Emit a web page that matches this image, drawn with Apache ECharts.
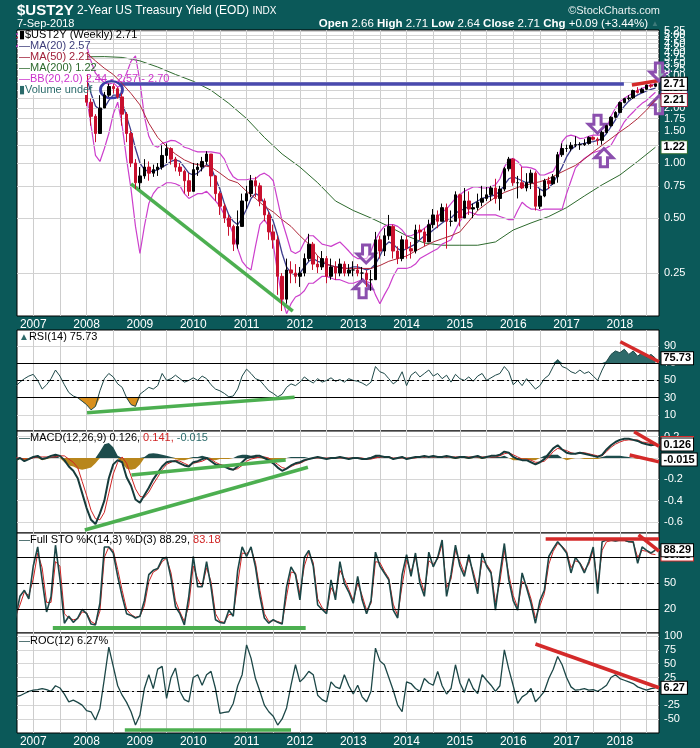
<!DOCTYPE html>
<html><head><meta charset="utf-8">
<script src="https://cdn.jsdelivr.net/npm/echarts@6/dist/echarts.min.js"></script>
<style>html,body{margin:0;padding:0;background:#0b5959;}#c{width:700px;height:748px;}</style>
</head><body><div id="c"></div>
<script>
// ---------- DATA (monthly samples, index 0 = Sep 2006) ----------
const startYear = 2006, startMonth = 9;
const yearLabels = ['2007','2008','2009','2010','2011','2012','2013','2014','2015','2016','2017','2018'];
const priceTicks = [0.25,0.5,0.75,1,1.25,1.5,1.75,2,2.25,2.5,2.75,3,3.25,3.5,3.75,4,4.25,4.5,4.75,5,5.25];
const rsiTicks = [10,30,50,70,90];
const macdTicks = [0.2,0,-0.2,-0.4,-0.6];
const stoTicks = [20,50,80];
const rocTicks = [100,75,50,25,0,-25,-50];

// monthly close
const price = [4.70,4.70,4.62,4.81,
4.92,4.60,4.58,4.59,4.92,4.87,4.56,4.15,3.97,3.94,3.04,3.05,
2.15,1.80,1.45,2.00,2.35,2.62,2.55,2.30,1.85,1.45,1.00,0.78,
0.85,0.95,0.88,0.92,0.95,1.10,1.20,1.05,0.95,0.90,0.80,0.70,
0.92,0.95,1.02,1.12,0.85,0.68,0.58,0.50,0.45,0.36,0.45,0.62,
0.68,0.80,0.75,0.62,0.52,0.42,0.38,0.24,0.18,0.26,0.25,0.24,
0.25,0.30,0.36,0.28,0.27,0.30,0.24,0.27,0.25,0.28,0.25,0.26,
0.26,0.25,0.25,0.23,0.23,0.38,0.33,0.40,0.45,0.33,0.30,0.38,
0.34,0.33,0.43,0.42,0.37,0.46,0.52,0.48,0.57,0.48,0.48,0.67,
0.50,0.62,0.56,0.57,0.61,0.64,0.67,0.73,0.64,0.72,0.93,1.05,
0.78,0.78,0.73,0.78,0.88,0.58,0.66,0.80,0.77,0.84,1.11,1.20,
1.20,1.25,1.26,1.26,1.28,1.38,1.35,1.33,1.47,1.60,1.78,1.89,
2.14,2.25,2.27,2.49,2.43,2.53,2.67,2.63,2.71];
// monthly high / low
const priceHigh = [4.80,4.78,4.75,4.85,5.00,4.95,4.65,4.70,4.95,5.10,4.95,4.60,4.20,4.15,3.95,3.35,
3.05,2.25,1.85,2.35,2.45,2.72,2.70,2.60,2.40,1.90,1.50,1.05,0.95,1.05,1.02,0.98,
1.00,1.25,1.28,1.22,1.08,1.00,0.92,0.88,1.00,1.00,1.08,1.16,1.12,0.86,0.70,0.60,
0.52,0.46,0.55,0.68,0.75,0.86,0.84,0.78,0.64,0.54,0.46,0.40,0.25,0.30,0.29,0.28,
0.27,0.32,0.41,0.37,0.31,0.33,0.31,0.30,0.29,0.30,0.29,0.28,0.29,0.28,0.27,0.26,
0.26,0.42,0.40,0.44,0.52,0.46,0.35,0.40,0.40,0.37,0.46,0.46,0.44,0.49,0.56,0.55,
0.60,0.60,0.55,0.70,0.68,0.73,0.70,0.60,0.68,0.75,0.74,0.75,0.82,0.75,0.95,1.08,
1.06,0.85,0.95,0.88,0.92,0.90,0.72,0.82,0.84,0.87,1.15,1.28,1.26,1.30,1.40,1.30,
1.35,1.40,1.40,1.38,1.50,1.62,1.80,1.92,2.17,2.27,2.35,2.52,2.60,2.58,2.68,2.70,2.71];
const priceLow = [4.62,4.62,4.58,4.55,4.76,4.55,4.45,4.52,4.56,4.80,4.50,3.90,3.85,3.75,2.90,2.95,
2.05,1.60,1.30,1.45,2.00,2.30,2.40,2.25,1.60,1.30,0.95,0.72,0.72,0.82,0.80,0.84,
0.85,0.92,1.00,0.98,0.90,0.85,0.68,0.66,0.70,0.85,0.90,0.98,0.74,0.62,0.52,0.47,
0.40,0.33,0.34,0.45,0.56,0.65,0.65,0.58,0.48,0.38,0.34,0.19,0.155,0.17,0.22,0.22,
0.21,0.24,0.29,0.26,0.25,0.26,0.22,0.23,0.23,0.24,0.24,0.24,0.24,0.24,0.23,0.21,
0.20,0.23,0.30,0.31,0.38,0.30,0.28,0.29,0.30,0.30,0.32,0.38,0.35,0.37,0.44,0.44,
0.48,0.34,0.45,0.48,0.45,0.50,0.52,0.50,0.55,0.58,0.62,0.62,0.60,0.55,0.70,0.90,
0.75,0.64,0.72,0.70,0.72,0.55,0.56,0.65,0.72,0.76,0.78,1.08,1.15,1.16,1.22,1.18,
1.24,1.26,1.33,1.25,1.26,1.45,1.58,1.75,1.88,2.12,2.20,2.24,2.40,2.42,2.50,2.58,2.60];

const ma20 = [4.75,4.72,4.70,4.72,4.78,4.80,4.72,4.62,4.68,4.80,4.80,4.60,4.30,4.05,3.85,3.45,
2.95,2.40,2.05,1.95,2.00,2.20,2.35,2.35,2.15,1.80,1.50,1.20,1.00,0.92,0.90,0.90,
0.92,0.95,0.98,1.02,1.04,1.02,0.95,0.88,0.86,0.88,0.93,0.98,0.95,0.82,0.72,0.60,
0.52,0.48,0.46,0.50,0.56,0.64,0.68,0.66,0.60,0.54,0.48,0.40,0.32,0.27,0.25,0.245,
0.25,0.27,0.29,0.30,0.29,0.285,0.28,0.275,0.27,0.27,0.265,0.265,0.27,0.27,0.265,0.26,
0.265,0.28,0.31,0.35,0.37,0.36,0.34,0.33,0.34,0.35,0.36,0.38,0.40,0.41,0.43,0.45,
0.47,0.49,0.50,0.53,0.55,0.56,0.58,0.60,0.62,0.64,0.65,0.66,0.67,0.70,0.76,0.82,
0.84,0.82,0.80,0.78,0.79,0.76,0.72,0.70,0.73,0.78,0.86,0.95,1.08,1.18,1.24,1.27,
1.28,1.30,1.31,1.33,1.36,1.45,1.58,1.72,1.90,2.05,2.18,2.28,2.36,2.42,2.48,2.53,2.57];

const ma50Step = 2;
const ma50 = [4.85,4.88,4.85,4.80,4.75,4.70,4.55,4.30,4.00,3.62,3.30,3.05,2.72,2.40,2.08,1.65,
1.38,1.23,1.12,1.04,0.99,0.97,0.95,0.88,0.81,0.78,0.70,0.64,0.58,0.54,0.49,0.45,0.40,0.36,
0.31,0.28,0.27,0.265,0.265,0.265,0.265,0.275,0.29,0.30,0.31,0.33,0.35,0.37,0.385,0.40,0.42,
0.48,0.55,0.60,0.65,0.69,0.72,0.75,0.77,0.79,0.82,0.87,0.92,0.97,1.05,1.15,1.25,1.36,1.48,
1.60,1.75,1.95,2.21];

const ma200Step = 4;
const ma200 = [3.50,3.60,3.70,3.77,3.81,3.82,3.78,3.62,3.35,3.05,2.80,2.50,2.12,1.75,1.38,1.12,
0.95,0.78,0.62,0.55,0.50,0.45,0.40,0.365,0.355,0.355,0.355,0.37,0.43,0.47,0.51,0.57,0.66,0.76,
0.86,1.02,1.22];

const bbUpper = [5.1,5.0,4.95,5.0,5.05,5.1,5.0,4.9,4.95,5.1,5.1,5.2,5.1,4.8,4.7,4.5,
4.4,3.6,3.1,2.9,2.75,2.7,2.75,2.6,2.7,3.1,3.6,3.85,2.8,1.8,1.4,1.25,
1.22,1.28,1.30,1.33,1.32,1.28,1.22,1.20,1.17,1.15,1.15,1.15,1.15,1.14,1.13,1.05,
0.92,0.84,0.81,0.81,0.81,0.82,0.82,0.86,0.88,0.85,0.80,0.62,0.48,0.40,0.33,0.32,
0.33,0.37,0.40,0.40,0.38,0.36,0.355,0.35,0.36,0.37,0.35,0.33,0.31,0.30,0.30,0.30,
0.33,0.38,0.42,0.45,0.46,0.46,0.45,0.43,0.40,0.40,0.41,0.42,0.44,0.46,0.48,0.51,
0.54,0.56,0.60,0.64,0.67,0.70,0.72,0.74,0.74,0.73,0.73,0.74,0.76,0.82,0.95,1.04,
1.06,1.02,0.95,0.95,0.94,0.92,0.86,0.86,0.88,0.90,1.00,1.31,1.40,1.42,1.40,1.36,
1.37,1.40,1.42,1.42,1.42,1.55,1.80,2.00,2.16,2.26,2.34,2.42,2.50,2.56,2.62,2.67,2.70];

const bbLower = [4.3,4.5,4.5,4.5,4.6,4.4,4.4,4.4,4.3,4.5,4.3,3.9,3.6,3.5,3.1,2.8,
2.3,1.6,1.1,1.02,1.2,1.45,1.85,2.15,1.6,1.05,0.72,0.45,0.32,0.45,0.6,0.68,
0.73,0.75,0.78,0.78,0.77,0.75,0.68,0.64,0.66,0.68,0.68,0.70,0.66,0.62,0.58,0.52,
0.47,0.41,0.34,0.29,0.27,0.26,0.35,0.46,0.49,0.45,0.36,0.25,0.18,0.15,0.17,0.185,
0.19,0.20,0.22,0.22,0.23,0.24,0.24,0.235,0.23,0.23,0.225,0.22,0.22,0.225,0.23,0.225,
0.22,0.19,0.17,0.19,0.21,0.24,0.265,0.265,0.265,0.27,0.28,0.30,0.31,0.32,0.33,0.34,
0.36,0.37,0.38,0.43,0.48,0.52,0.54,0.53,0.52,0.52,0.52,0.52,0.52,0.51,0.50,0.49,
0.49,0.55,0.61,0.58,0.56,0.56,0.55,0.56,0.56,0.56,0.56,0.56,0.68,0.80,0.94,1.00,
1.06,1.10,1.14,1.16,1.18,1.21,1.25,1.38,1.52,1.68,1.80,1.90,2.02,2.12,2.20,2.32,2.44];

const rsi = [43,48,52,55,57,50,40,45,52,62,55,45,36,32,30,26,22,16,20,38,
52,58,54,46,42,30,22,20,34,38,42,40,44,58,50,52,56,52,48,50,
53,50,55,52,45,40,38,35,31,32,40,55,63,58,52,50,44,38,35,31,
34,42,46,44,48,54,50,47,52,48,50,53,49,51,48,52,50,49,47,44,
48,66,60,58,52,46,50,60,44,56,60,54,58,62,55,58,52,56,48,57,
52,50,54,49,55,58,50,53,56,58,66,60,45,50,44,52,46,40,44,52,
56,66,74,66,64,60,58,62,58,60,55,50,62,72,80,84,82,86,80,84,
78,82,77,80,75.73];

const macd = [-0.02,0.0,-0.03,-0.01,0.01,0.02,-0.01,0.0,0.02,0.03,0.02,-0.02,
-0.08,-0.12,-0.19,-0.33,-0.47,-0.58,-0.62,-0.52,-0.40,-0.19,-0.06,-0.02,
-0.04,-0.18,-0.26,-0.39,-0.42,-0.35,-0.28,-0.2,-0.14,-0.08,-0.04,-0.03,
-0.03,-0.05,-0.07,-0.08,-0.04,-0.03,-0.01,0.0,-0.03,-0.06,-0.07,-0.08,
-0.1,-0.11,-0.08,-0.04,0.0,0.01,0.02,0.02,0.0,-0.02,-0.05,-0.09,
-0.12,-0.1,-0.07,-0.05,-0.04,-0.02,-0.01,
0.0,0.01,0.0,-0.01,0.0,0.0,0.01,0.0,-0.01,0.0,0.0,-0.01,-0.01,0.0,0.02,0.02,0.01,0.01,-0.01,0.0,0.01,
-0.01,0.0,0.01,0.01,0.02,0.01,0.02,0.01,0.01,0.02,0.01,0.0,0.01,0.01,0.0,0.01,0.02,0.0,0.01,0.02,0.02,
0.03,0.06,0.05,0.01,-0.01,-0.02,-0.02,-0.04,-0.06,-0.04,-0.01,0.04,0.09,0.12,0.08,0.05,0.04,0.04,
0.05,0.04,0.03,0.02,0.01,0.03,0.08,0.12,0.15,0.17,0.18,0.18,0.17,0.16,0.14,0.13,0.12,0.126];

const macdSignal = [0.0,0.0,-0.01,-0.01,0.0,0.01,0.01,0.01,0.01,0.01,0.02,0.02,
-0.01,-0.04,-0.09,-0.22,-0.35,-0.49,-0.57,-0.58,-0.51,-0.33,-0.15,-0.04,
0.01,-0.05,-0.17,-0.29,-0.36,-0.37,-0.32,-0.245,-0.18,-0.11,-0.06,-0.04,
-0.02,-0.03,-0.05,-0.07,-0.05,-0.04,-0.03,-0.01,-0.01,-0.04,-0.06,-0.07,
-0.09,-0.11,-0.1,-0.07,-0.03,-0.01,0.0,0.01,0.01,0.0,-0.03,-0.06,
-0.09,-0.1,-0.08,-0.06,-0.05,-0.03,-0.01,
0,0,0,0,0,0,0,0,0,0,0,0,-0.01,-0.01,0,0.01,0.01,0.01,0,0,0,
0,0,0,0.01,0.01,0.01,0.01,0.01,0.01,0.01,0.01,0.01,0.01,0.01,0.01,0.01,0.01,0.01,0.01,0.01,0.01,
0.02,0.04,0.05,0.03,0.01,-0.01,-0.01,-0.02,-0.04,-0.04,-0.03,0.01,0.06,0.09,0.08,0.07,0.05,0.04,
0.05,0.05,0.04,0.03,0.02,0.02,0.06,0.10,0.13,0.15,0.165,0.17,0.17,0.17,0.15,0.145,0.135,0.141];

const macdHist = [-0.03,-0.01,-0.02,0.0,0.01,0.01,-0.02,-0.01,0.01,0.02,0.0,-0.04,
-0.07,-0.08,-0.1,-0.11,-0.1,-0.09,-0.05,0.06,0.13,0.14,0.1,0.02,
-0.05,-0.1,-0.11,-0.1,-0.06,0.01,0.04,0.045,0.04,0.03,0.02,0.01,
-0.01,-0.02,-0.02,-0.01,0.01,0.01,0.02,0.01,-0.02,-0.02,-0.01,-0.01,
-0.01,0.0,0.02,0.03,0.03,0.02,0.02,0.01,-0.01,-0.02,-0.02,-0.03,
-0.03,0.0,0.01,0.01,0.01,0.01,0.0,
0,0.01,0,-0.01,0,0,0.01,0,-0.01,0,0,-0.01,0,0.01,0.02,0.01,0,0,-0.01,0,0.01,
-0.01,0,0.01,0,0.01,0,0.01,0,0,0.01,0,-0.01,0,0,-0.01,0,0.01,-0.01,0,0.01,0.01,
0.01,0.02,0.0,-0.02,-0.02,-0.01,-0.01,-0.02,-0.02,0.0,0.02,0.03,0.03,0.03,0.0,-0.02,-0.01,0.0,
0.0,-0.01,-0.01,-0.01,-0.01,0.01,0.02,0.02,0.02,0.02,0.015,0.01,0.0,-0.01,-0.01,-0.015,-0.015,-0.015];

const stoK = [10,35,42,32,70,92,54,17,35,94,55,4,12,5,10,20,15,3,2,27,
92,92,85,58,35,15,13,10,12,30,60,65,67,78,80,56,23,15,2,35,
81,46,46,75,46,8,5,4,19,12,65,92,81,92,69,35,10,4,8,5,
3,46,69,60,31,80,88,70,25,20,15,54,31,75,50,40,27,58,31,15,
30,86,70,62,54,19,10,60,83,58,85,50,35,86,69,80,100,35,60,94,
70,58,83,60,38,85,70,62,19,60,96,54,30,19,62,45,27,4,30,42,
81,90,98,92,85,62,80,73,62,75,92,38,98,100,100,99,100,100,98,98,
73,92,88,85,88.29];

const stoD = [12,25,40,36,55,85,68,28,28,75,70,15,10,8,9,17,16,6,3,18,
80,92,88,66,42,20,14,11,12,24,52,63,66,75,79,62,30,17,6,25,
70,55,46,68,52,15,6,5,14,14,50,85,84,90,74,42,15,6,7,6,
4,35,63,62,38,70,86,74,32,22,17,45,36,65,55,43,30,50,36,19,
27,75,74,64,56,26,13,48,77,63,80,56,40,76,72,78,95,45,55,88,
75,62,78,64,44,76,72,64,28,52,88,60,36,22,52,48,32,10,24,38,
72,87,96,93,87,68,76,74,65,72,88,48,88,98,99,99,99,99,98,97,
80,88,87,84,83.18];

const roc = [-10,-8,-4,0,2,3,5,3,0,10,6,-5,-19,-16,-20,-25,-35,-37,-52,-31,
23,80,45,10,-7,-20,-37,-61,-43,5,30,5,40,45,-13,25,42,0,-15,-19,
25,30,11,30,36,5,-40,-38,-37,-22,10,30,84,60,23,0,-25,-37,-45,-61,
-50,-30,11,48,17,25,36,30,-7,-15,-19,17,8,5,30,10,-5,11,-10,-19,
0,78,55,48,25,2,-25,-37,17,14,5,0,23,15,11,36,10,-5,5,48,
15,-2,23,5,-4,30,20,11,0,10,75,40,10,-22,-10,-5,5,-19,-10,0,
23,40,63,48,25,8,2,3,5,2,3,0,5,11,25,30,23,20,17,14,
8,5,2,5,6.27];

// annotations in data coordinates [month index, value]
const resistanceLine = [[23.6,2.71],[136.9,2.71]];
const topCircle = [21.6,2.52];
const priceDownTrend = [[26,0.768],[62.4,0.155]];
const priceRedLine = [[138.7,2.67],[145.4,2.84]];
const downArrows = [[144.8,3.15],[130.96,1.63],[78.9,0.318]];
const upArrows = [[144.8,2.08],[132.4,1.07],[78.1,0.205]];
const rsiGreen = [[16.1,12.7],[62.8,30.5]];
const rsiRed = [[136.1,94.7],[146.2,67.8]];
const macdGreen1 = [[15.6,-0.676],[65.8,-0.087]];
const macdGreen2 = [[26.1,-0.16],[60.8,-0.019]];
const macdRed1 = [[139.2,0.247],[146.2,0.075]];
const macdRed2 = [[138.2,0.028],[145.2,-0.04]];
const stoGreen = [[8.4,-1.8],[65.3,-1.8]];
const stoRed1 = [[119.3,101.2],[146.7,101.2]];
const stoRed2 = [[140.2,105.8],[146.2,81.5]];
const rocGreen = [[24.6,-70],[62,-70]];
const rocRed = [[117,85.5],[146.2,2.4]];

// ---------- CHART ----------
const FONT = '"Liberation Sans", Arial, sans-serif';
const TEAL = '#0b5959';
const xMin = 0.34, xMax = 144.8;
const monthIndex = (y, mo) => (y - startYear) * 12 + (mo - startMonth);
const yearTicks = yearLabels.map(y => monthIndex(Number(y), 1));
const gridTicks = yearTicks.flatMap(t => [t, t + 6]);
const yearLabelAt = v => { const i = yearTicks.indexOf(Math.round(v)); return i >= 0 ? yearLabels[i] : ''; };
const pts = (arr, step) => arr.map((v, i) => [i * (step || 1), v]);
const last = a => a[a.length - 1];
// keep annotation segments inside the plotted x range (markers outside are dropped by ECharts)
const clampSeg = (p, isLog) => {
  const [a, b] = p;
  if (b[0] <= xMax) return p;
  const t = (xMax - a[0]) / (b[0] - a[0]);
  const y = isLog ? Math.exp(Math.log(a[1]) + t * (Math.log(b[1]) - Math.log(a[1]))) : a[1] + t * (b[1] - a[1]);
  return [a, [xMax, y]];
};

const GREEN = '#4caf50', RED = '#d42a2a', DARK = '#1c4747';
const lineSeg = (p, color, width, isLog) => {
  const q = clampSeg(p, isLog);
  return [{coord: q[0], lineStyle: {color, width, type: 'solid'}}, {coord: q[1], lineStyle: {color, width, type: 'solid'}}];
};
const hLine = (v, dash) => ({yAxis: v, lineStyle: {color: '#000', width: 1, type: dash ? [7,3,2,3] : 'solid'}});
const mk = data => ({silent: true, symbol: ['none','none'], label: {show: false}, animation: false, data});
const tag = (v, txt, border, color) => ({
  coord: [xMax, v], symbol: 'rect', symbolSize: 1, itemStyle: {color: 'rgba(0,0,0,0)'},
  label: {show: true, position: 'right', distance: 2, formatter: txt, backgroundColor: '#fff',
    borderColor: border, borderWidth: 1, padding: [1,2,0,2], color: color || '#000',
    fontSize: 11, fontFamily: FONT, fontWeight: 'bold'}
});
const downPath = 'path://M3,0 L7,0 L7,5 L10,5 L5,10 L0,5 L3,5 Z';
const upPath = 'path://M5,0 L10,5 L7,5 L7,10 L3,10 L3,5 L0,5 Z';
const arrow = (p, path) => ({coord: p, symbol: path, symbolSize: [18,18],
  itemStyle: {color: 'rgba(255,255,255,0.55)', borderColor: '#8b4fae', borderWidth: 3}, label: {show: false}});

const grids = [[30,286],[330,101],[431,102],[533,100],[633,100]];
const grid = grids.map(g => ({left: 17, right: 41, top: g[0], height: g[1], show: true,
  backgroundColor: '#fff', borderColor: '#000', borderWidth: 1}));

const xAxis = grids.map((g, i) => ({
  type: 'value', gridIndex: i, min: xMin, max: xMax,
  axisLine: {show: false}, axisTick: {show: false, customValues: gridTicks},
  axisLabel: {show: i === 0 || i === 4, customValues: yearTicks, formatter: yearLabelAt,
    color: '#fff', fontSize: 12, fontFamily: FONT, margin: 3},
  splitLine: {show: true, lineStyle: {color: '#cdcdcd', width: 1}}
}));

const valAxis = (gi, min, max, ticks) => ({
  type: 'value', gridIndex: gi, min, max, position: 'right',
  axisLine: {show: false}, axisTick: {show: false, customValues: ticks},
  axisLabel: {customValues: ticks, color: '#fff', fontSize: 11, fontFamily: FONT, margin: 5},
  splitLine: {show: true, lineStyle: {color: '#d6d6d6', width: 1}}
});

const yAxis = [
  {type: 'log', gridIndex: 0, logBase: 10, min: 0.1456, max: 5.34, position: 'right',
   axisLine: {show: false}, axisTick: {show: false}, axisLabel: {show: false}, splitLine: {show: false}},
  valAxis(1, -8.4, 108.2, rsiTicks),
  valAxis(2, -0.704, 0.2535, macdTicks),
  valAxis(3, -7.3, 108.1, stoTicks),
  valAxis(4, -75.4, 105.4, rocTicks)
];

const L = (gi, data, color, width, extra) => Object.assign({
  type: 'line', xAxisIndex: gi, yAxisIndex: gi, data, symbol: 'none', showSymbol: false,
  lineStyle: {color, width}, silent: true, animation: false, clip: false
}, extra || {});

// OHLC items: [x, open(prev close), close, low, high]
const ohlc = price.map((c, i) => [i, i > 0 ? price[i - 1] : c, c, priceLow[i], priceHigh[i]]);

const series = [
  // price panel grid lines + labels
  L(0, [[xMin, 1]], 'rgba(0,0,0,0)', 0, {z: 1, markLine: {silent: true, symbol: ['none','none'], animation: false,
    lineStyle: {color: '#d2d2d2', width: 1, type: 'solid'},
    label: {show: true, position: 'end', distance: 5, color: '#fff', fontSize: 11, fontFamily: FONT,
      formatter: p => p.value.toFixed(2)},
    data: priceTicks.map(v => ({yAxis: v}))}}),
  L(0, pts(ma200, ma200Step), '#2d6a2d', 1, {z: 3, markPoint: {silent: true, data: [tag(last(ma200), last(ma200).toFixed(2), '#2d6a2d')]}}),
  L(0, pts(bbUpper), '#cc3fcc', 1.2, {z: 3}),
  L(0, pts(bbLower), '#cc3fcc', 1.2, {z: 3}),
  L(0, pts(ma20), '#3d3d8c', 1.3, {z: 4, markPoint: {silent: true, data: [tag(last(ma20), last(ma20).toFixed(2), '#3d3d8c')]}}),
  L(0, pts(ma50, ma50Step), '#b0283a', 1, {z: 5, markPoint: {silent: true, data: [tag(last(ma50), last(ma50).toFixed(2), '#a0203a')]}}),
  {type: 'candlestick', xAxisIndex: 0, yAxisIndex: 0, data: ohlc, encode: {x: 0, y: [1, 2, 3, 4]},
   barWidth: 3, silent: true, animation: false, z: 6,
   itemStyle: {color: '#000', color0: '#c8102e', borderColor: '#000', borderColor0: '#c8102e', borderWidth: 1}},
  L(0, pts(price), 'rgba(0,0,0,0)', 0, {z: 7,
    markLine: mk([lineSeg(resistanceLine, '#4a4aae', 3.5, true), lineSeg(priceDownTrend, GREEN, 3.5, true), lineSeg(priceRedLine, RED, 3.5, true)]),
    markPoint: {silent: true, label: {show: false}, data: [
      {coord: topCircle, symbol: 'circle', symbolSize: [22,17], itemStyle: {color: 'rgba(0,0,0,0)', borderColor: '#3c3ca6', borderWidth: 2.5}, label: {show: false}},
      ...downArrows.map(p => arrow(p, downPath)), ...upArrows.map(p => arrow(p, upPath)),
      tag(last(price), last(price).toFixed(2), '#000')]}}),

  // RSI
  L(1, rsi.map((v, i) => [i, Math.max(v, 70)]), 'rgba(0,0,0,0)', 0, {areaStyle: {color: '#2e6a6a', opacity: 1, origin: 70}}),
  L(1, rsi.map((v, i) => [i, Math.min(v, 30)]), 'rgba(0,0,0,0)', 0, {areaStyle: {color: '#d98f1d', opacity: 1, origin: 30}}),
  L(1, pts(rsi), DARK, 1, {z: 4,
    markLine: mk([hLine(70), hLine(30), hLine(50, true), lineSeg(rsiGreen, GREEN, 3.5), lineSeg(rsiRed, RED, 3.5)]),
    markPoint: {silent: true, data: [tag(last(rsi), last(rsi).toFixed(2), '#000')]}}),

  // MACD
  L(2, macdHist.map((v, i) => [i, Math.max(v, 0)]), 'rgba(0,0,0,0)', 0, {areaStyle: {color: '#1d4c4c', opacity: 1, origin: 0}}),
  L(2, macdHist.map((v, i) => [i, Math.min(v, 0)]), 'rgba(0,0,0,0)', 0, {areaStyle: {color: '#b8861c', opacity: 1, origin: 0}}),
  L(2, pts(macdSignal), '#d02424', 1, {z: 3, markPoint: {silent: true, data: [tag(last(macdSignal), last(macdSignal).toFixed(3), RED)]}}),
  L(2, pts(macd), '#163b3b', 2, {z: 4,
    markLine: mk([lineSeg(macdGreen1, GREEN, 3.5), lineSeg(macdGreen2, GREEN, 3.5), lineSeg(macdRed1, RED, 3.5), lineSeg(macdRed2, RED, 3.5)]),
    markPoint: {silent: true, data: [tag(last(macd), last(macd).toFixed(3), '#000'), tag(last(macdHist), last(macdHist).toFixed(3), '#000')]}}),

  // Full STO
  L(3, pts(stoD), '#d02424', 1, {z: 3, markPoint: {silent: true, data: [tag(last(stoD), last(stoD).toFixed(2), RED)]}}),
  L(3, pts(stoK), DARK, 1.6, {z: 4,
    markLine: mk([hLine(80), hLine(20), hLine(50, true), lineSeg(stoGreen, GREEN, 4), lineSeg(stoRed1, RED, 3.5), lineSeg(stoRed2, RED, 3.5)]),
    markPoint: {silent: true, data: [tag(last(stoK), last(stoK).toFixed(2), '#000')]}}),

  // ROC
  L(4, pts(roc), DARK, 1.3, {z: 4,
    markLine: mk([hLine(0, true), lineSeg(rocGreen, GREEN, 3.5), lineSeg(rocRed, RED, 3.5)]),
    markPoint: {silent: true, data: [tag(last(roc), last(roc).toFixed(2), '#000')]}})
];

const txt = (x, y, text, style) => ({type: 'text', x, y, z: 60, silent: true,
  style: Object.assign({text, fill: '#000', font: '11px ' + FONT, verticalAlign: 'middle'}, style || {})});

const graphic = [
  {type: 'rect', z: 50, silent: true, shape: {x: 18, y: 31, width: 69, height: 64}, style: {fill: '#fff'}},
  // header
  txt(17, 11, '{a|$UST2Y} {b|2-Year US Treasury Yield (EOD)} {c|INDX}', {fill: '#fff', font: '12px ' + FONT,
    rich: {a: {fill: '#fff', font: 'bold 15px ' + FONT}, b: {fill: '#fff', font: '12px ' + FONT}, c: {fill: '#fff', font: '10px ' + FONT}}}),
  txt(660, 11, '©StockCharts.com', {fill: '#e8f0f0', font: '11px ' + FONT, align: 'right'}),
  txt(17, 24, '7-Sep-2018', {fill: '#fff', font: '11px ' + FONT}),
  txt(648, 24, '{b|Open} 2.66 {b|High} 2.71 {b|Low} 2.64 {b|Close} 2.71 {b|Chg} +0.09 (+3.44%)',
    {fill: '#fff', font: '11.5px ' + FONT, align: 'right', rich: {b: {fill: '#fff', font: 'bold 11.5px ' + FONT}}}),
  txt(651, 24, '▲', {fill: '#3f7a7a', font: '8px ' + FONT}),
  // main legend
  txt(19, 35, '▮$UST2Y (Weekly) 2.71', {fill: '#000'}),
  txt(19, 46, '—MA(20) 2.57', {fill: '#3d3d7a'}),
  txt(19, 57, '—MA(50) 2.21', {fill: '#a0203a'}),
  txt(19, 68, '—MA(200) 1.22', {fill: '#2d6a2d'}),
  txt(19, 79, '—BB(20,2.0) 2.44 - 2.57 - 2.70', {fill: '#cc33cc'}),
  txt(19, 89.5, '▮Volume undef', {fill: '#2a6a6a'}),
  // panel titles
  txt(19, 337, '{i|▲}RSI(14) 75.73', {rich: {i: {fill: '#2e6a6a', font: '10px ' + FONT}}}),
  txt(19, 438, '{i|—}MACD(12,26,9) 0.126, {r|0.141,} {t|-0.015}', {rich: {i: {fill: DARK}, r: {fill: '#d02424'}, t: {fill: '#2a6a6a'}}}),
  txt(19, 539.5, '{i|—}Full STO %K(14,3) %D(3) 88.29, {r|83.18}', {rich: {i: {fill: DARK}, r: {fill: '#d02424'}}}),
  txt(19, 640.5, '{i|—}ROC(12) 6.27%', {rich: {i: {fill: DARK}}})
];

const chart = echarts.init(document.getElementById('c'));
chart.setOption({backgroundColor: TEAL, animation: false, grid, xAxis, yAxis, series, graphic});
</script></body></html>
